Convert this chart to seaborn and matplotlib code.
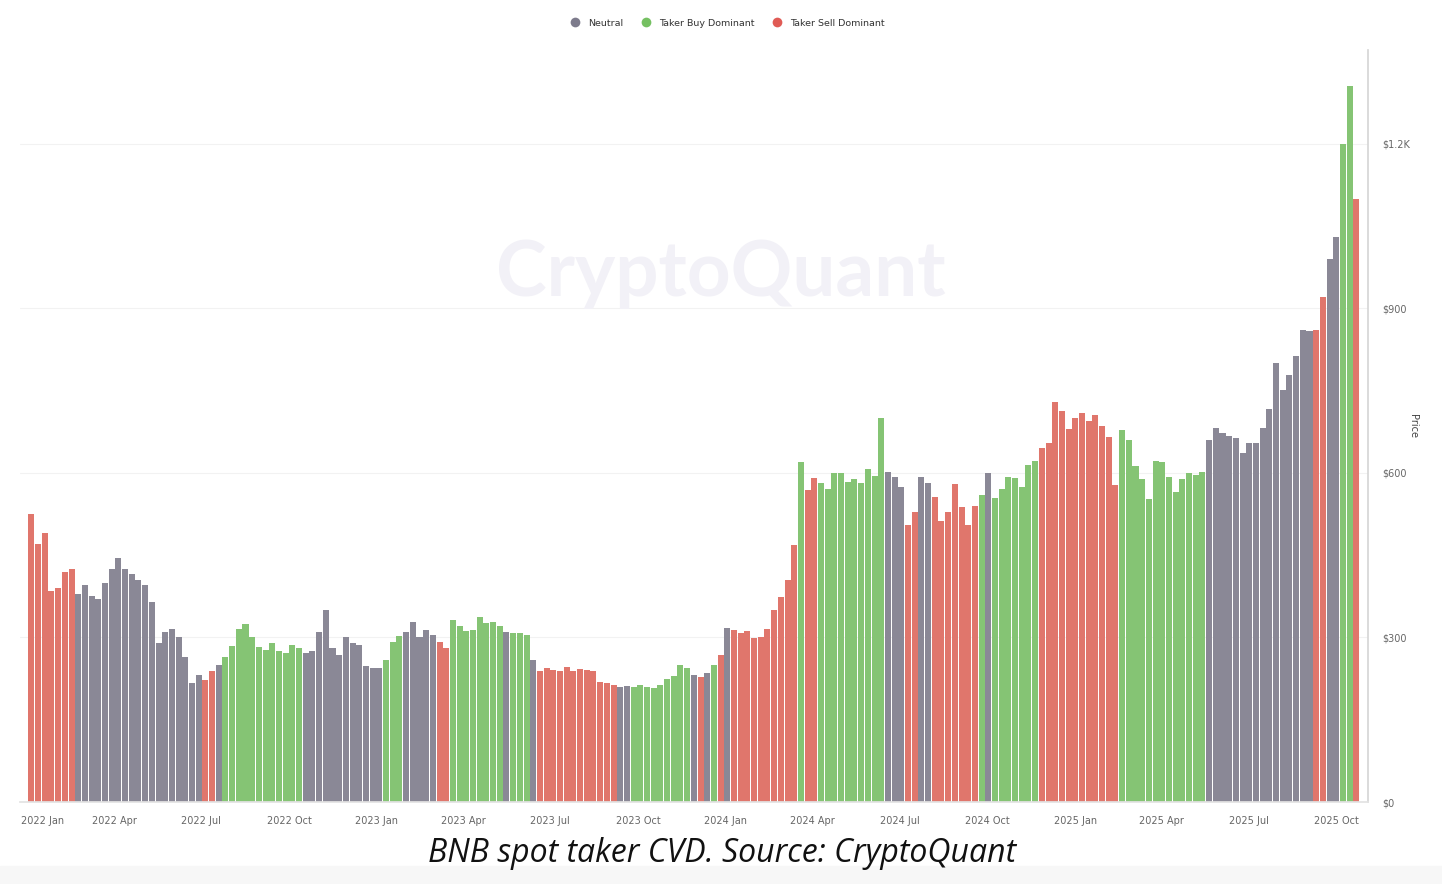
import numpy as np
import pandas as pd
import matplotlib
matplotlib.use("Agg")
import matplotlib.pyplot as plt
import seaborn as sns
from matplotlib.lines import Line2D

# weekly BNB price, starting 2022-01-01
START = "2022-01-01"
prices = [
    525, 470, 490, 385, 390, 420, 425, 380, 395, 375,
    370, 400, 425, 445, 425, 415, 405, 395, 365, 290,
    310, 315, 300, 265, 217, 232, 222, 238, 250, 265,
    285, 315, 325, 300, 283, 278, 290, 275, 272, 286,
    281, 272, 276, 310, 350, 280, 268, 301, 290, 286,
    248, 244, 245, 258, 292, 302, 310, 328, 300, 314,
    305, 292, 280, 332, 320, 312, 314, 337, 326, 328,
    320, 310, 308, 308, 305, 258, 238, 244, 241, 238,
    246, 238, 242, 241, 239, 218, 217, 214, 210, 212,
    210, 213, 210, 207, 214, 224, 230, 250, 244, 232,
    228, 235, 250, 268, 318, 314, 308, 312, 299, 301,
    315, 350, 374, 405, 468, 620, 568, 590, 582, 570,
    600, 600, 583, 588, 582, 608, 595, 700, 602, 592,
    575, 505, 528, 592, 582, 556, 512, 528, 580, 538,
    505, 540, 560, 600, 555, 570, 592, 590, 575, 615,
    622, 645, 655, 730, 712, 680, 700, 710, 695, 705,
    685, 665, 578, 678, 660, 612, 588, 553, 622, 620,
    592, 565, 588, 600, 596, 602, 660, 681, 673, 668,
    664, 637, 655, 655, 681, 717, 800, 752, 779, 814,
    860, 858, 860, 920, 990, 1030, 1200, 1305, 1100,
]

# regime per week: N = neutral, B = taker buy dominant, S = taker sell dominant
regimes = (
    "SSSSSSS" + "N" * 19 + "SS" + "N" + "B" * 12 + "N" * 12 + "BBB" + "NNNNN"
    + "SS" + "B" * 8 + "N" + "BBB" + "N" + "S" * 12 + "NN" + "B" * 9
    + "NSNBSNS" + "S" * 9 + "B" + "SS" + "B" * 10 + "NNNSSNNS"
    + "S" * 6 + "BN" + "B" * 7 + "S" * 12 + "B" * 13 + "N" * 16
    + "SSNNBBS"
)

regime_names = {"N": "Neutral", "B": "Taker Buy Dominant", "S": "Taker Sell Dominant"}
palette = {"Neutral": "#8a8896", "Taker Buy Dominant": "#85c474",
           "Taker Sell Dominant": "#e0766c"}
legend_colors = ["#7d7b8c", "#75c062", "#e05b55"]

tick_months = pd.date_range("2022-01-01", "2025-10-01", freq="QS")
tick_labels = [d.strftime("%Y %b") for d in tick_months]
price_ticks = [0, 300, 600, 900, 1200]
price_labels = ["$0", "$300", "$600", "$900", "$1.2K"]

start = pd.Timestamp(START)
dates = pd.date_range(start, periods=len(prices), freq="7D")
df = pd.DataFrame({
    # bar centred in the middle of its week
    "day": (dates - start).days + 3.5,
    "price": prices,
    "regime": [regime_names[c] for c in regimes[:len(prices)]],
})

sns.set_theme(style="white")
plt.rcParams["font.family"] = ["DejaVu Sans"]

fig = plt.figure(figsize=(14.42, 8.84), dpi=100)
ax = fig.add_axes([20 / 1442, 1 - 802 / 884, 1348 / 1442, 752 / 884])

# watermark behind the bars
fig.text(721 / 1442, 1 - 274 / 884, "CryptoQuant", fontsize=55, color="#f2f1f7",
         ha="center", va="center", family=["Lato", "DejaVu Sans"],
         fontweight="bold", zorder=0)
ax.patch.set_alpha(0)

sns.barplot(data=df, x="day", y="price", hue="regime", palette=palette,
            native_scale=True, dodge=False, width=0.9, linewidth=0,
            saturation=1, legend=False, ax=ax)

ax.set_xlim(-8.4, 1401.7)
ax.set_ylim(0, 1371)

ax.yaxis.tick_right()
ax.yaxis.set_label_position("right")
ax.set_yticks(price_ticks)
ax.set_yticklabels(price_labels)
ax.set_ylabel("Price", fontsize=7, color="#444", rotation=270)
ax.yaxis.set_label_coords(1.037, 0.5)
ax.set_xticks((tick_months - start).days)
ax.set_xticklabels(tick_labels)
ax.set_xlabel("")
ax.tick_params(axis="both", labelsize=7, colors="#666", length=0, pad=10)
ax.tick_params(axis="x", pad=10)

ax.grid(axis="y", color="#f2f2f2", linewidth=0.8)
ax.set_axisbelow(True)
for side in ["top", "left"]:
    ax.spines[side].set_visible(False)
ax.spines["right"].set_color("#d6d6d6")
ax.spines["bottom"].set_color("#e3e3e3")

# shift first tick label so it stays inside the figure
first = ax.get_xticklabels()[0]
first.set_transform(first.get_transform()
                    + matplotlib.transforms.ScaledTranslation(-7 / 100, 0, fig.dpi_scale_trans))
first.set_horizontalalignment("left")

# legend
handles = [Line2D([0], [0], marker="o", linestyle="", markersize=7,
                  markerfacecolor=c, markeredgewidth=0) for c in legend_colors]
fig.legend(handles, list(palette.keys()), loc="center", ncol=3,
           bbox_to_anchor=(725 / 1442, 1 - 23 / 884), frameon=False,
           fontsize=6.8, handletextpad=0.4, columnspacing=1.4,
           labelcolor="#333")

# caption
fig.patches.append(plt.Rectangle((0, 0), 1, 18 / 884, transform=fig.transFigure,
                                 color="#f7f7f7", zorder=-1))
fig.text(722 / 1442, 1 - 853 / 884, "BNB spot taker CVD. Source: CryptoQuant",
         fontsize=23, style="italic", color="#111", ha="center", va="center",
         family=["Open Sans", "DejaVu Sans"])

fig.savefig("out.png", dpi=100)
